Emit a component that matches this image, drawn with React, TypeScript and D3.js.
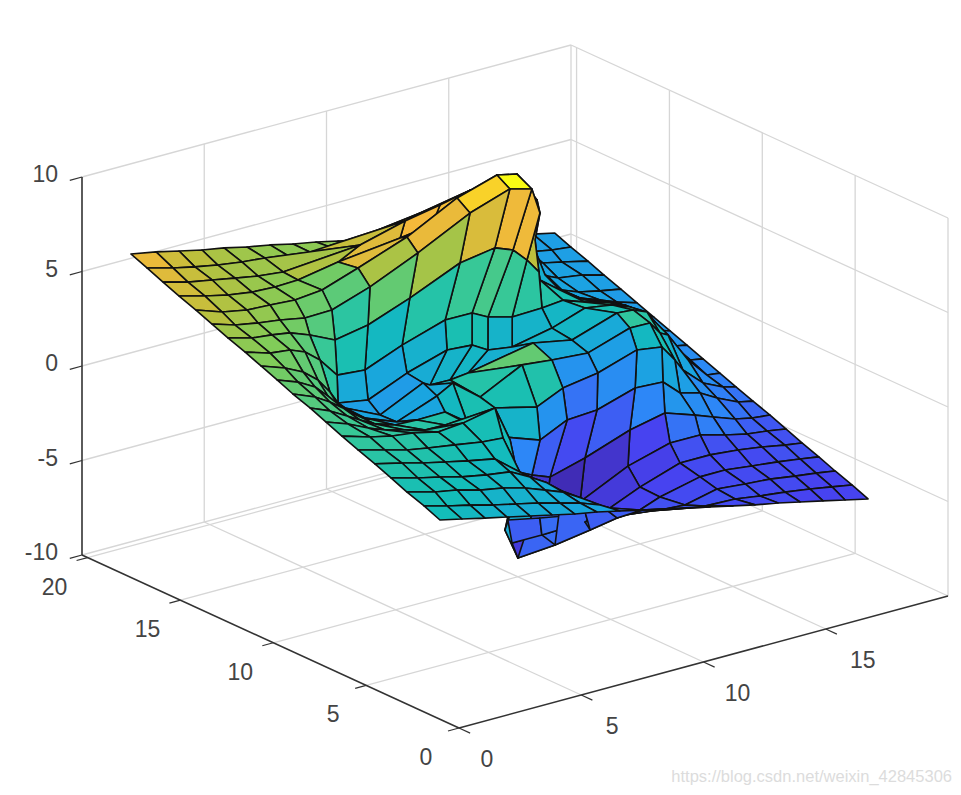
import React from 'react';
import * as d3 from 'd3';

// mesh: rows run along x, one row per entry of yValues
const yValues = [1, 1.88, 2.76, 3.65, 4.53, 5.41, 6.29, 7.17, 8.06, 8.94, 9.82, 10.7, 11.58, 12.47, 13.35, 14.23, 15.11, 15.99, 16.88, 17.76];

const xValues = [
  [-0.02, 0.88, 1.82, 2.72, 3.66, 4.56, 5.5, 6.4, 7.34, 8.24, 9.18, 10.13, 11.03, 11.97, 12.87, 13.81, 14.71, 15.65, 16.55, 17.49],
  [0, 0.94, 1.88, 2.82, 3.76, 4.66, 5.56, 6.38, 7.2, 7.89, 8.22, 9.24, 10.88, 11.49, 12.72, 13.74, 14.76, 15.79, 16.69, 17.5],
  [-0.03, 1.12, 2.02, 2.96, 3.9, 4.8, 5.62, 6.35, 7.09, 7.46, 7.25, 7.87, 10.52, 11.34, 12.65, 13.8, 14.82, 15.84, 16.7, 17.48],
  [-0.01, 1.09, 1.99, 2.89, 3.91, 4.86, 5.67, 6.37, 6.98, 6.7, 6.16, 6.08, 10.17, 10.99, 12.63, 13.65, 14.75, 15.82, 16.72, 17.49],
  [0, 1.11, 1.97, 2.87, 3.81, 4.91, 5.93, 6.43, 6.83, 5.85, 5.61, 5.44, 9.62, 10.84, 12.48, 13.71, 14.85, 15.83, 16.77, 17.47],
  [-0.02, 1.08, 1.98, 2.84, 3.95, 5.05, 5.91, 6.48, 6.69, 5.99, 7.01, 7.75, 9.06, 11.02, 12.74, 13.97, 14.99, 15.89, 16.71, 17.48],
  [-0.01, 1.14, 2.04, 2.9, 3.92, 4.94, 6.25, 6.87, 6.95, 7.19, 7.76, 8.5, 9.93, 11.77, 13.2, 14.43, 15.17, 16.07, 16.76, 17.5],
  [0.01, 0.91, 1.73, 2.42, 3.24, 4.06, 4.88, 5.9, 6.72, 7.33, 8.76, 9.87, 11.09, 12.65, 13.79, 14.49, 15.31, 16, 16.86, 17.47],
  [0.03, 0.84, 1.54, 2.07, 2.68, 3.5, 4.4, 5.55, 6.45, 7.59, 9.31, 10.37, 11.8, 13.4, 14.42, 14.95, 15.28, 16.1, 16.92, 17.45],
  [0, 0.9, 1.51, 2.04, 2.41, 2.94, 4.25, 5.89, 6.54, 7.65, 9.37, 10.59, 12.07, 13.78, 14.6, 15.01, 15.34, 16.16, 16.93, 17.46],
  [0.02, 0.87, 1.57, 2.1, 2.51, 2.8, 4.23, 5.99, 6.27, 7.09, 7.83, 10.49, 12.08, 13.92, 14.58, 15.15, 15.48, 16.21, 16.91, 17.44],
  [0.03, 1.01, 1.75, 2.36, 2.85, 3.18, 4.41, 6, 7.64, 8.66, 9.31, 10.3, 11.93, 13.28, 14.39, 15.12, 15.65, 16.27, 16.92, 17.45],
  [0.05, 1.07, 1.89, 2.5, 3.11, 3.81, 4.95, 6.47, 8.23, 9.33, 9.98, 10.97, 12.19, 13.05, 13.95, 14.77, 15.59, 16.2, 16.82, 17.43],
  [0.02, 1, 1.82, 2.56, 3.37, 4.4, 5.75, 7.46, 9.51, 10.94, 11.68, 12.25, 12.74, 12.78, 13.6, 14.62, 15.44, 16.14, 16.75, 17.44],
  [0.04, 0.98, 1.92, 2.82, 3.84, 4.94, 6.5, 8.46, 10.59, 12.22, 13.12, 13.45, 13.25, 13.25, 13.66, 14.39, 15.09, 15.91, 16.6, 17.42],
  [0.05, 1.12, 2.14, 3.08, 4.1, 5.21, 6.68, 8.68, 10.73, 12.36, 13.18, 14, 13.71, 13.51, 13.71, 14.12, 15.02, 15.68, 16.58, 17.43],
  [0.03, 1.09, 2.03, 3.01, 3.95, 4.89, 6.53, 9.07, 10.37, 12.13, 13.36, 13.97, 13.97, 13.97, 13.77, 14.18, 15.08, 15.53, 16.51, 17.41],
  [0.04, 1.06, 2.05, 2.99, 3.93, 4.95, 8.1, 9.94, 11.37, 12.6, 13.42, 13.83, 14.03, 14.23, 14.03, 13.95, 14.85, 15.58, 16.36, 17.42],
  [0.06, 1.12, 2.02, 2.96, 3.94, 4.88, 5.78, 6.72, 7.67, 8.36, 9.06, 9.79, 10.81, 11.84, 13.06, 14, 14.9, 15.72, 16.62, 17.4],
  [0.07, 1.1, 2.04, 2.98, 3.88, 4.82, 5.76, 6.7, 7.64, 8.54, 9.44, 10.34, 11.24, 12.06, 12.92, 13.82, 14.76, 15.66, 16.51, 17.41],
];

const zValues = [
  [0.56, 0.3, 0.02, -0.24, -0.51, -0.77, -1.05, -1.26, -1.53, -1.8, -2.07, -2.35, -2.61, -2.88, -3.14, -3.37, -3.63, -3.9, -4.17, -4.44],
  [0.9, 0.57, 0.29, -0.03, -0.31, -0.57, -0.89, -1.17, -1.56, -2.49, -2.45, -2.59, -3.01, -3.12, -3.17, -3.37, -3.52, -3.72, -3.92, -4.1],
  [1.25, 0.85, 0.64, 0.31, 0.09, -0.22, -0.62, -0.98, -1.55, -3.37, -2.88, -2.62, -3.33, -3.41, -3.02, -3.15, -3.25, -3.45, -3.59, -3.75],
  [1.59, 1.2, 0.94, 0.63, 0.38, 0.21, -0.34, -0.9, -1.54, -4.3, -3.58, -2.66, -3.66, -3.26, -2.77, -2.76, -2.93, -3.09, -3.25, -3.41],
  [1.93, 1.59, 1.29, 1.03, 0.76, 0.48, -0.57, -1.06, -1.52, -5.09, -4.21, -2.94, -3.76, -3.08, -2.38, -2.38, -2.52, -2.7, -2.93, -3.06],
  [2.28, 1.89, 1.58, 1.38, 1.16, 0.93, 0.84, -1.16, -1.55, -4.06, -2.3, -2.66, -3.64, -2.43, -1.81, -1.81, -2.17, -2.43, -2.56, -2.72],
  [2.61, 2.16, 1.9, 1.76, 1.46, 1.57, 1.91, 0, -1.61, -1.8, -2.16, -2.53, -2.02, -1.18, -0.78, -1.32, -1.68, -2.1, -2.29, -2.39],
  [2.95, 2.53, 2.04, 1.69, 1.4, 1.12, 1.09, 0.74, 0.82, -0.4, -1.06, -0.38, -0.28, 0.34, 0.26, -0.57, -0.85, -1.36, -1.87, -2.04],
  [3.29, 2.85, 2.34, 1.94, 1.52, 1.18, 1.13, 1.15, 0.31, 0.65, 0.1, 0.73, 1.03, 1.69, 1.49, 0.62, -0.03, -1, -1.5, -1.68],
  [3.64, 3.17, 2.69, 2.19, 1.79, 1.34, 0.68, 1.48, 1.94, 0.81, 1.91, 1.74, 1.6, 2.32, 2.3, 1.63, 1.41, -0.2, -1.27, -1.35],
  [3.98, 3.57, 3.07, 2.4, 1.79, 1.53, 0.66, 1.74, 1.53, 1.51, 1.62, 2.28, 1.88, 2.67, 2.6, 2.29, 1.65, 0.07, -0.86, -0.99],
  [4.32, 3.87, 3.4, 2.76, 1.96, 1.26, 0.99, 1.86, 2.51, 2.41, 1.92, 1.74, 2.17, 2.76, 2.53, 2.17, 1.72, 0.45, -0.52, -0.66],
  [4.65, 4.24, 4.12, 3.8, 3.16, 2.12, 1.99, 2.78, 3.49, 3.48, 3.04, 2.69, 2.74, 2.86, 2.44, 2.16, 1.71, 0.97, -0.04, -0.3],
  [5.01, 4.66, 4.54, 4.39, 3.99, 3.37, 3.69, 4.52, 5.66, 5.96, 5.59, 4.86, 4.06, 3.62, 2.8, 1.92, 1.53, 1.13, 0.49, 0.03],
  [5.34, 4.96, 4.74, 4.58, 4.33, 4.37, 5.05, 6.16, 7.53, 8.23, 7.92, 6.53, 5.18, 4.65, 3.18, 1.76, 1.46, 1.07, 0.72, 0.39],
  [5.68, 5.2, 4.95, 4.89, 4.8, 4.94, 5.59, 6.53, 7.88, 8.53, 8.29, 6.63, 5.94, 4.95, 3.56, 1.93, 1.51, 1.18, 0.92, 0.72],
  [6.03, 5.66, 5.39, 5.2, 5.14, 5.18, 5.56, 5.95, 6.18, 6.62, 6.19, 4.92, 3.86, 3.6, 3.4, 2.15, 1.84, 1.57, 1.39, 1.07],
  [6.37, 6.01, 5.78, 5.55, 5.33, 5.19, 5.52, 6.14, 6.49, 6.85, 6.3, 5.1, 3.71, 3.37, 2.92, 2.41, 2.21, 1.95, 1.73, 1.41],
  [6.71, 6.34, 6.08, 5.85, 5.67, 5.55, 5.4, 5.23, 5.11, 5.03, 5.15, 4.53, 4.06, 3.65, 2.85, 2.58, 2.32, 2.09, 1.88, 1.76],
  [7.05, 6.8, 6.52, 6.24, 6.04, 5.76, 5.54, 5.26, 5.04, 4.78, 4.52, 4.26, 3.99, 3.71, 3.41, 3.15, 2.87, 2.61, 2.36, 2.1],
];

// flat-shaded cell colours, percent along the colormap
const cellLevels = [
  [40, 38, 36, 34, 33, 32, 31, 30, 14, 14, 13, 12, 11, 11, 11, 11, 10, 10, 10],
  [41, 40, 38, 36, 35, 34, 32, 31, 14, 17, 16, 15, 13, 12, 12, 11, 11, 10, 10],
  [42, 41, 40, 38, 37, 35, 33, 32, 15, 16, 16, 15, 12, 11, 11, 11, 11, 11, 11],
  [44, 43, 42, 40, 38, 37, 35, 33, 15, 7, 14, 14, 10, 10, 11, 11, 11, 12, 12],
  [46, 45, 44, 42, 40, 39, 37, 35, 33, 8, 8, 6, 7, 9, 12, 12, 12, 12, 12],
  [48, 47, 46, 44, 42, 41, 40, 38, 36, 9, 5, 2, 5, 10, 17, 19, 17, 14, 13],
  [50, 49, 48, 47, 45, 44, 40, 36, 34, 20, 14, 11, 14, 20, 25, 22, 20, 17, 15],
  [52, 51, 50, 49, 47, 46, 44, 40, 38, 36, 24, 17, 22, 29, 31, 28, 22, 19, 17],
  [54, 53, 52, 51, 49, 32, 30, 38, 42, 42, 44, 24, 28, 38, 42, 36, 30, 22, 19],
  [56, 55, 53, 52, 50, 30, 30, 32, 38, 45, 56, 32, 32, 48, 46, 40, 30, 25, 21],
  [58, 56, 54, 53, 50, 28, 27, 33, 36, 37, 34, 36, 37, 42, 50, 42, 30, 26, 22],
  [60, 58, 56, 54, 47, 32, 31, 35, 42, 42, 36, 36, 37, 44, 50, 40, 30, 28, 25],
  [62, 60, 58, 55, 50, 42, 38, 45, 50, 52, 50, 47, 45, 42, 40, 34, 30, 28, 26],
  [65, 62, 60, 58, 54, 47, 56, 66, 75, 79, 79, 70, 50, 34, 32, 32, 30, 29, 27],
  [69, 66, 63, 60, 57, 55, 67, 78, 90, 100, 80, 70, 70, 40, 34, 32, 30, 29, 27],
  [72, 68, 65, 62, 60, 58, 76, 80, 85, 90, 85, 70, 50, 40, 30, 31, 30, 29, 28],
  [74, 70, 67, 64, 62, 68, 76, 80, 82, 80, 70, 50, 40, 32, 30, 30, 29, 29, 28],
  [76, 72, 68, 66, 65, 66, 72, 78, 78, 75, 65, 45, 35, 30, 29, 29, 29, 28, 28],
  [78, 73, 70, 67, 65, 63, 62, 62, 62, 60, 55, 45, 35, 30, 29, 29, 28, 28, 28],
];

const zTicks = [-10, -5, 0, 5, 10];
const xTicks = [0, 5, 10, 15];
const yTicks = [0, 5, 10, 15, 20];
const xMax = 20;
const yMax = 20.3;

// oblique axes: each data axis gets a horizontal and a vertical pixel scale
const xH = d3.scaleLinear().domain([0, xMax]).range([0, 489]);
const xV = d3.scaleLinear().domain([0, xMax]).range([0, -132]);
const yH = d3.scaleLinear().domain([0, yMax]).range([0, -377]);
const yV = d3.scaleLinear().domain([0, yMax]).range([0, -173]);
const zV = d3.scaleLinear().domain([-10, 10]).range([0, -378]);
const project = (x: number, y: number, z: number): [number, number] => [459 + xH(x) + yH(y), 728 + xV(x) + yV(y) + zV(z)];

const parula = d3.scaleLinear<string>()
  .domain([0, 10, 20, 30, 40, 50, 60, 70, 80, 90, 100])
  .range(['#3e26a8', '#4743f0', '#2d87f7', '#1aa5e0', '#13bdb9', '#37c897', '#81cc59', '#bdbf3c', '#f5b93a', '#f9d229', '#f9fb15']);

const seg = (a: [number, number], b: [number, number], c: string, w: number) => (
  <line x1={a[0]} y1={a[1]} x2={b[0]} y2={b[1]} stroke={c} strokeWidth={w} />
);

export default function App() {
  const cells: { d: string; depth: number; fill: string }[] = [];
  for (let j = 0; j < yValues.length - 1; j++) {
    for (let i = 0; i < xValues[0].length - 1; i++) {
      const q = [[j, i], [j, i + 1], [j + 1, i + 1], [j + 1, i]].map(([r, c]) => [xValues[r][c], yValues[r], zValues[r][c]]);
      const mx = d3.mean(q, p => p[0])!;
      const my = d3.mean(q, p => p[1])!;
      const mz = d3.mean(q, p => p[2])!;
      cells.push({
        d: d3.line()(q.map(p => project(p[0], p[1], p[2])))! + 'Z',
        // painter's order, along the view direction
        depth: -0.527 * mx / xMax - 0.687 * my / yMax + 0.5 * (mz + 10) / 20,
        fill: parula(cellLevels[j][i]),
      });
    }
  }
  cells.sort((a, b) => a.depth - b.depth);

  const grid = '#d6d6d6';
  const axis = '#333';
  const text = '#444';
  return (
    <svg width={961} height={795} style={{ position: 'absolute', left: 0, top: 0, background: '#fff' }} fontFamily="'Liberation Sans', Arial, sans-serif">
      <g>
        {xTicks.slice(1).map(t => (
          <g key={t}>
            {seg(project(t, 0, -10), project(t, yMax, -10), grid, 1.3)}
            {seg(project(t, yMax, -10), project(t, yMax, 10), grid, 1.3)}
          </g>
        ))}
        {yTicks.slice(1).map(t => (
          <g key={t}>
            {seg(project(0, t, -10), project(xMax, t, -10), grid, 1.3)}
            {seg(project(xMax, t, -10), project(xMax, t, 10), grid, 1.3)}
          </g>
        ))}
        {zTicks.map(t => (
          <g key={t}>
            {seg(project(0, yMax, t), project(xMax, yMax, t), grid, 1.3)}
            {seg(project(xMax, yMax, t), project(xMax, 0, t), grid, 1.3)}
          </g>
        ))}
        {seg(project(xMax, 0, -10), project(xMax, 0, 10), grid, 1.3)}
        {seg(project(xMax, yMax, -10), project(xMax, yMax, 10), grid, 1.3)}
      </g>
      <g stroke="#111" strokeWidth={1.6} strokeLinejoin="round">
        {cells.map((c, k) => <path key={k} d={c.d} fill={c.fill} />)}
      </g>
      <g>
        {seg(project(0, 0, -10), project(xMax, 0, -10), axis, 1.6)}
        {seg(project(0, 0, -10), project(0, yMax, -10), axis, 1.6)}
        {seg(project(0, yMax, -10), project(0, yMax, 10), axis, 1.6)}
        {zTicks.map(t => (
          <g key={t}>
            {seg(project(0, yMax, t), project(-0.5, yMax, t), axis, 1.2)}
            <text x={58} y={project(0, yMax, t)[1] + 5} textAnchor="end" fontSize={23} fill={text}>{t}</text>
          </g>
        ))}
        {yTicks.map(t => (
          <g key={t}>
            {seg(project(0, t, -10), project(-0.45, t, -10), axis, 1.2)}
            <text x={project(0, t, -10)[0] - 33} y={project(0, t, -10)[1] + 37} textAnchor="middle" fontSize={23} fill={text}>{t}</text>
          </g>
        ))}
        {xTicks.map(t => (
          <g key={t}>
            {seg(project(t, 0, -10), project(t, -0.6, -10), axis, 1.2)}
            <text x={project(t, 0, -10)[0] + 28 + t * 0.6} y={project(t, 0, -10)[1] + 39} textAnchor="middle" fontSize={23} fill={text}>{t}</text>
          </g>
        ))}
      </g>
      <text x={952} y={782} textAnchor="end" fontSize={16.5} fill="#dcdcdc">https://blog.csdn.net/weixin_42845306</text>
    </svg>
  );
}
